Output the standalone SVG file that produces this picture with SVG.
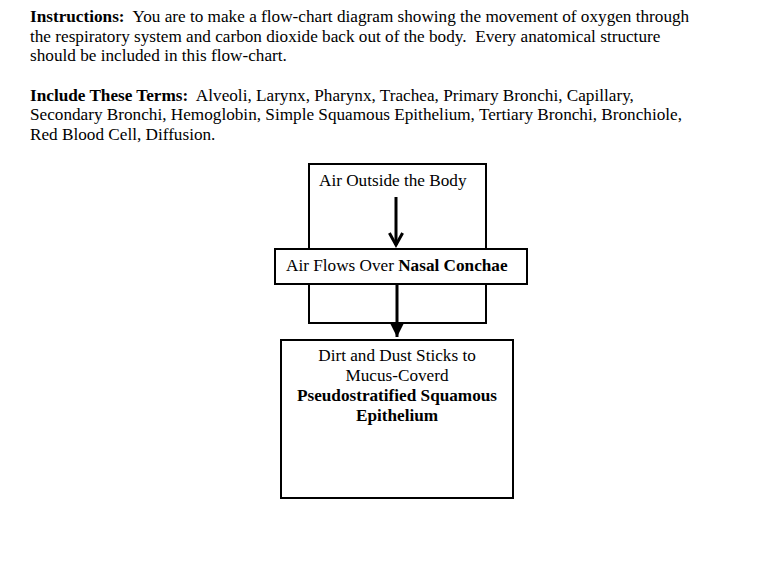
<svg xmlns="http://www.w3.org/2000/svg" width="761" height="565" viewBox="0 0 761 565" xml:space="preserve">
<style>
text{font-family:"Liberation Serif","Times New Roman",serif;font-size:17.2px;fill:#000;white-space:pre}
.b{font-weight:bold}
.box{fill:#fff;stroke:#000;stroke-width:2}
.c{text-anchor:middle}
.arr{stroke:#000;stroke-width:3;fill:none}
</style>
<defs>
<marker id="ah" markerWidth="6" markerHeight="6" refX="4.5" refY="3" orient="auto" markerUnits="strokeWidth">
<path d="M0.5,0.8 L4.5,3 L0.5,5.2" fill="none" stroke="#000" stroke-width="1"/>
</marker>
<marker id="ahf" markerWidth="6" markerHeight="6" refX="5" refY="3" orient="auto" markerUnits="strokeWidth">
<path d="M0,0.5 L5,3 L0,5.5 Z" fill="#000"/>
</marker>
</defs>
<g id="instructions">
<text x="30" y="22"><tspan class="b">Instructions:</tspan>  You are to make a flow-chart diagram showing the movement of oxygen through</text>
<text x="30" y="42">the respiratory system and carbon dioxide back out of the body.  Every anatomical structure</text>
<text x="30" y="61">should be included in this flow-chart.</text>
<text x="30" y="101"><tspan class="b">Include These Terms:</tspan>  Alveoli, Larynx, Pharynx, Trachea, Primary Bronchi, Capillary,</text>
<text x="30" y="120">Secondary Bronchi, Hemoglobin, Simple Squamous Epithelium, Tertiary Bronchi, Bronchiole,</text>
<text x="30" y="140">Red Blood Cell, Diffusion.</text>
</g>
<g id="n1">
<rect class="box" x="309" y="164" width="177" height="159"/>
<text x="319" y="186">Air Outside the Body</text>
</g>
<g id="n2">
<rect class="box" x="275" y="249" width="252" height="35"/>
<text x="286" y="271">Air Flows Over <tspan class="b">Nasal Conchae</tspan></text>
</g>
<g id="n3">
<rect class="box" x="281" y="340" width="232" height="158"/>
<text class="c" x="397" y="361">Dirt and Dust Sticks to</text>
<text class="c" x="397" y="381">Mucus-Coverd</text>
<text class="c b" x="397" y="401">Pseudostratified Squamous</text>
<text class="c b" x="397" y="421">Epithelium</text>
</g>
<g id="connectors">
<line class="arr" x1="396" y1="197" x2="396" y2="245" marker-end="url(#ah)"/>
<line class="arr" x1="397" y1="285" x2="397" y2="337" marker-end="url(#ahf)"/>
</g>
</svg>
